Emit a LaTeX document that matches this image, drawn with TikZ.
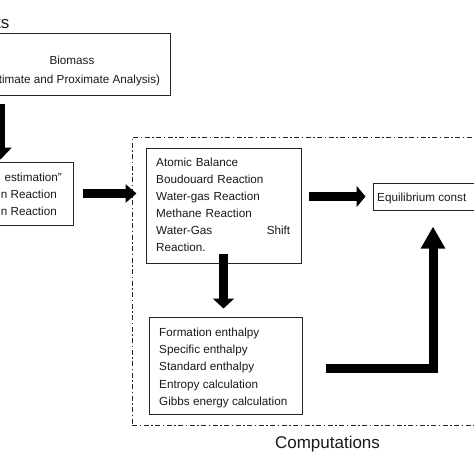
\documentclass[tikz,border=0pt]{standalone}
\usepackage{fontspec}
\setmainfont{Liberation Sans}
\usetikzlibrary{arrows.meta,calc}
\begin{document}
\begin{tikzpicture}[x=1pt,y=-1pt,
  box/.style={draw=black!85,line width=1pt,inner sep=0pt,rectangle},
  txt/.style={inner sep=0pt,font=\fontsize{11.7}{17}\selectfont,text=black!90},
  bigtxt/.style={inner sep=0pt,font=\fontsize{17}{20}\selectfont,text=black!90},
  bigarrow/.style={line width=9pt,-{Triangle[length=10pt,width=22pt]}},
  region/.style={draw=black!85,line width=0.9pt,dash pattern=on 5pt off 2.5pt on 1.5pt off 2.5pt,inner sep=0pt,rectangle}]
\useasboundingbox (0,0) rectangle (474,474);
\clip (0,0) rectangle (474,474);
% boxes
\node[box,minimum width=200pt,minimum height=61.5pt] (biomass) at (70,64.25) {};
\node[box,minimum width=133pt,minimum height=63pt] (box2) at (6.5,193.5) {};
\node[region,minimum width=388pt,minimum height=288pt] (comp) at (326,281) {};
\node[box,minimum width=155pt,minimum height=115pt] (box3) at (223.5,205.5) {};
\node[box,minimum width=153pt,minimum height=97pt] (box4) at (225.5,365.5) {};
\node[box,minimum width=147pt,minimum height=27pt] (eq) at (446.5,196.5) {};
% texts
\node[bigtxt,anchor=base east] (inputs) at (9.5,28) {ts};
\node[txt,align=center,anchor=north,font=\fontsize{11.7}{19}\selectfont] (biomasstxt) at (72,55.5) {Biomass\\(Ultimate and Proximate Analysis)};
\node[txt,align=right,anchor=north east] (box2txt) at (62,172.5) {estimation”\\n Reaction\rule{5pt}{0pt}\\n Reaction\rule{5pt}{0pt}};
\node[txt,align=left,text width=134pt,anchor=north west] (box3txt) at (156,157.5) {Atomic Balance\\Boudouard Reaction\\Water-gas Reaction\\Methane Reaction\\Water-Gas\hfill Shift\\Reaction.};
\node[txt,align=left,anchor=north west,font=\fontsize{11.7}{17.3}\selectfont] (box4txt) at (159,327.5) {Formation enthalpy\\Specific enthalpy\\Standard enthalpy\\Entropy calculation\\Gibbs energy calculation};
\node[txt,anchor=base west] (eqtxt) at (377,201.5) {Equilibrium const};
\node[bigtxt,anchor=base] (comptitle) at (327.5,448) {Computations};
% helper coordinates
\coordinate (a1x) at (0.5,0);
\coordinate (upx) at (433,0);
\coordinate (lrow) at (0,368.5);
% arrows
\draw[bigarrow,-{Triangle[length=12pt,width=22pt]}] ([yshift=-8pt]biomass.south -| a1x) -- ([yshift=2pt]box2.north -| a1x);
\draw[bigarrow,line width=8.5pt,-{Triangle[length=11pt,width=18pt]}] ([xshift=9pt]box2.east) -- ([xshift=5pt]comp.west |- box2.east);
\draw[bigarrow,-{Triangle[length=9pt,width=21pt]}] ([xshift=7pt]box3.east |- eq.west) -- ([xshift=-7pt]eq.west);
\draw[bigarrow,-{Triangle[length=10pt,width=21pt]}] ([yshift=10pt]box3.south) -- ([yshift=8pt]box4.north -| box3.south);
\draw[bigarrow,line join=miter,-{Triangle[length=22pt,width=23pt]}] ([xshift=23pt]box4.east |- lrow) -- (upx |- lrow) -- ([yshift=-16pt]eq.south -| upx);
\end{tikzpicture}
\end{document}
